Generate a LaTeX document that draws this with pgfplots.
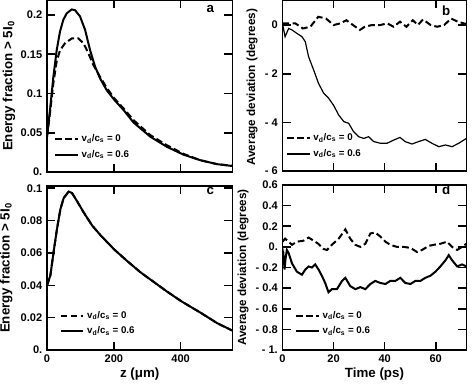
\documentclass[border=0pt]{standalone}
\usepackage{fontspec}
\setmainfont{Liberation Sans}
\usepackage{pgfplots}
\pgfplotsset{compat=1.18}
\pgfplotsset{
  panel/.style={
    scale only axis,
    axis line style={line width=1.3pt},
    every tick/.style={line width=1.2pt, black},
    major tick length=6pt,
    tick align=inside,
    minor tick num=0,
    tick label style={font=\fontsize{8.3}{9}\selectfont\bfseries},
    label style={font=\fontsize{10}{11}\selectfont\bfseries},
    legend style={draw=none, fill=none, anchor=south west,
      font=\fontsize{7.3}{8}\selectfont\bfseries, row sep=1pt,
      inner sep=1pt},
    legend cell align=left,
    /pgf/number format/assume math mode=true,
  },
  dsh/.style={black, line width=1.5pt, dash pattern=on 5pt off 2.5pt},
  sld/.style={black, line width=1.5pt},
}
\newcommand{\lega}{v\textsubscript{d}/c\textsubscript{s} = 0}
\newcommand{\legb}{v\textsubscript{d}/c\textsubscript{s} = 0.6}
\begin{document}
\begin{tikzpicture}
\path[use as bounding box] (0pt,0pt) rectangle (355.5pt,-289.5pt);
% ---------------- panel a
\begin{axis}[panel, at={(35.25pt,0pt)}, anchor=north west,
  width=139.1pt, height=129pt,
  xmin=0, xmax=555, ymin=0, ymax=0.219,
  xtick={0,200,400}, xticklabels={},
  ytick={0,0.05,0.1,0.15,0.2}, yticklabels={0.,0.05,0.1,0.15,0.2},
  ylabel={Energy fraction > 5I\textsubscript{0}},
  ylabel style={at={(axis description cs:-0.205,0.5)}, anchor=center},
  legend style={at={(axis description cs:0.03,0.05)}},
]
\addplot[dsh] coordinates {
(0,0.045)(9,0.075)(19,0.113)(29,0.141)(39,0.155)(54,0.164)(74,0.170)(94,0.170)
(109,0.164)(124,0.151)(139,0.136)(159,0.121)(179,0.107)(201,0.094)(229,0.081)
(259,0.066)(309,0.047)(359,0.034)(409,0.023)(459,0.015)(509,0.010)(555,0.008)};
\addlegendentry{\lega}
\addplot[sld] coordinates {
(0,0.045)(9,0.079)(19,0.121)(29,0.155)(39,0.179)(49,0.194)(59,0.202)(74,0.207)
(84,0.206)(99,0.198)(114,0.181)(129,0.155)(144,0.134)(159,0.119)(179,0.104)
(201,0.092)(229,0.079)(259,0.063)(309,0.045)(359,0.032)(409,0.022)(459,0.015)
(509,0.010)(555,0.0076)};
\addlegendentry{\legb}
\node[font=\fontsize{10}{11}\selectfont\bfseries, anchor=center] at (axis description cs:0.88,0.95) {a};
\end{axis}
% ---------------- panel b
\begin{axis}[panel, at={(211.9pt,0pt)}, anchor=north west,
  width=137.9pt, height=128.25pt,
  xmin=0, xmax=72, ymin=-6, ymax=1.03,
  xtick={0,20,40,60}, xticklabels={},
  ytick={-6,-4,-2,0}, yticklabels={- 6,- 4,- 2,0},
  ylabel={Average deviation (degrees)},
  ylabel style={at={(axis description cs:-0.166,0.49)}, anchor=center,
    font=\fontsize{8.8}{10}\selectfont\bfseries},
  legend style={at={(axis description cs:0.01,0.05)}},
]
\addplot[dsh] coordinates {
(0,0.07)(5,0.07)(8,-0.14)(10.9,-0.07)(14,0.34)(17,0.27)(20,0)(22.6,0.07)(25,0.2)
(27.6,0)(30.3,-0.2)(32.2,-0.07)(35,0)(38.3,0)(41,0.07)(43.5,-0.07)(46,0.14)
(48.5,-0.07)(51,0.2)(53,0)(55,0.23)(58,0)(60.6,-0.07)(63.3,0)(66,0.27)(68.6,0.14)
(72,0.04)};
\addlegendentry{\lega}
\addplot[black, line width=0.9pt, forget plot] coordinates {
(0,0.05)(1,-0.48)(2.4,-0.14)(3.7,-0.2)(5.6,-0.34)(7.6,-0.48)(8.9,-0.68)(10.2,-1.3)
(12.2,-1.85)(14.1,-2.4)(16.1,-2.8)(18,-3.0)(20,-3.3)(22,-3.7)(24,-3.97)(25.9,-4.04)
(27.8,-4.38)(29.8,-4.59)(31.8,-4.66)(33.7,-4.59)(35.7,-4.79)(38.3,-4.86)(40.9,-4.86)
(43.5,-4.73)(46,-4.62)(48,-4.79)(50.7,-4.89)(53.3,-4.79)(55.9,-4.7)(58.5,-4.86)
(61.2,-5.0)(63.8,-4.93)(66.4,-5.0)(69,-4.86)(72,-4.66)};
\addlegendimage{sld}
\addlegendentry{\legb}
\node[font=\fontsize{10}{11}\selectfont\bfseries, anchor=center] at (axis description cs:0.89,0.94) {b};
\end{axis}
% ---------------- panel c
\begin{axis}[panel, at={(35.25pt,-139.5pt)}, anchor=north west,
  width=139.1pt, height=123pt,
  xmin=0, xmax=555, ymin=0, ymax=0.1014,
  xtick={0,200,400}, xticklabels={0,200,400},
  ytick={0,0.02,0.04,0.06,0.08,0.1}, yticklabels={0.,0.02,0.04,0.06,0.08,0.1},
  xlabel={z (μm)},
  xlabel style={at={(axis description cs:0.5,-0.145)}, anchor=center},
  ylabel={Energy fraction > 5I\textsubscript{0}},
  ylabel style={at={(axis description cs:-0.22,0.5)}, anchor=center},
  legend style={at={(axis description cs:0.06,0.06)}},
]
\addplot[dsh] coordinates {
(0,0.040)(10,0.046)(20,0.061)(30,0.075)(40,0.087)(50,0.094)(65,0.098)(75,0.097)
(90,0.092)(110,0.085)(135,0.077)(160,0.071)(202,0.062)(240,0.055)(280,0.048)
(320,0.042)(360,0.036)(403,0.030)(460,0.023)(510,0.0165)(555,0.012)};
\addlegendentry{\lega}
\addplot[sld] coordinates {
(0,0.040)(10,0.046)(20,0.061)(30,0.075)(40,0.087)(50,0.094)(65,0.098)(75,0.097)
(90,0.092)(110,0.085)(135,0.077)(160,0.071)(202,0.062)(240,0.055)(280,0.048)
(320,0.042)(360,0.036)(403,0.030)(460,0.023)(510,0.0165)(555,0.012)};
\addlegendentry{\legb}
\node[font=\fontsize{10}{11}\selectfont\bfseries, anchor=center] at (axis description cs:0.88,0.97) {c};
\end{axis}
% ---------------- panel d
\begin{axis}[panel, at={(211.9pt,-138.75pt)}, anchor=north west,
  width=137.9pt, height=123.75pt,
  xmin=0, xmax=72, ymin=-1, ymax=0.6,
  xtick={0,20,40,60}, xticklabels={0,20,40,60},
  ytick={-1,-0.8,-0.6,-0.4,-0.2,0,0.2,0.4,0.6},
  yticklabels={- 1.,- 0.8,- 0.6,- 0.4,- 0.2,0.,0.2,0.4,0.6},
  xlabel={Time (ps)},
  xlabel style={at={(axis description cs:0.5,-0.145)}, anchor=center},
  ylabel={Average deviation (degrees)},
  ylabel style={at={(axis description cs:-0.215,0.5)}, anchor=center,
    font=\fontsize{8.8}{10}\selectfont\bfseries},
  legend style={at={(axis description cs:0.06,0.06)}},
]
\addplot[dsh] coordinates {
(0,0.05)(1,0.08)(2.4,0.05)(3.7,0.02)(5.6,0.05)(8.2,0.06)(10.2,0.09)(12.2,0.06)
(14,0.03)(16,-0.02)(17.4,-0.03)(19.3,0.02)(22,0.08)(24.6,0.17)(26.5,0.08)(28.5,0.02)
(30.5,0)(32.4,0.03)(34.4,0.13)(36.3,0.14)(38.3,0.10)(40.3,0.05)(42.2,0.02)(44.8,0)
(47.5,0)(50.1,-0.01)(52.7,-0.05)(54.6,-0.03)(57.3,0.01)(59.2,0.02)(61.8,0.03)
(64.4,0.05)(66.4,0)(68.4,-0.03)(70.3,0)(72,0.03)};
\addlegendentry{\lega}
\addplot[sld] coordinates {
(0,-0.16)(0.4,-0.09)(0.8,-0.22)(1.2,-0.11)(1.7,-0.03)(2.4,-0.06)(3.7,-0.16)(5.6,-0.24)
(7.6,-0.27)(8.9,-0.22)(10.2,-0.19)(11.5,-0.2)(12.8,-0.17)(14.1,-0.22)(15.4,-0.28)
(16.7,-0.35)(18,-0.44)(19.3,-0.41)(21.3,-0.41)(23.3,-0.33)(24.6,-0.30)(26.5,-0.38)
(28.5,-0.41)(30.5,-0.39)(32.4,-0.41)(34.4,-0.36)(36.3,-0.33)(38.3,-0.35)(40.3,-0.36)
(42.2,-0.33)(44.2,-0.33)(46.1,-0.30)(48.1,-0.35)(50.1,-0.36)(52,-0.33)(54,-0.33)
(55.9,-0.30)(57.9,-0.28)(59.9,-0.24)(61.8,-0.19)(63.8,-0.13)(65.1,-0.08)(66.4,-0.13)
(68.4,-0.19)(70.3,-0.17)(72,-0.19)};
\addlegendentry{\legb}
\node[font=\fontsize{10}{11}\selectfont\bfseries, anchor=center] at (axis description cs:0.89,0.97) {d};
\end{axis}
\end{tikzpicture}
\end{document}
